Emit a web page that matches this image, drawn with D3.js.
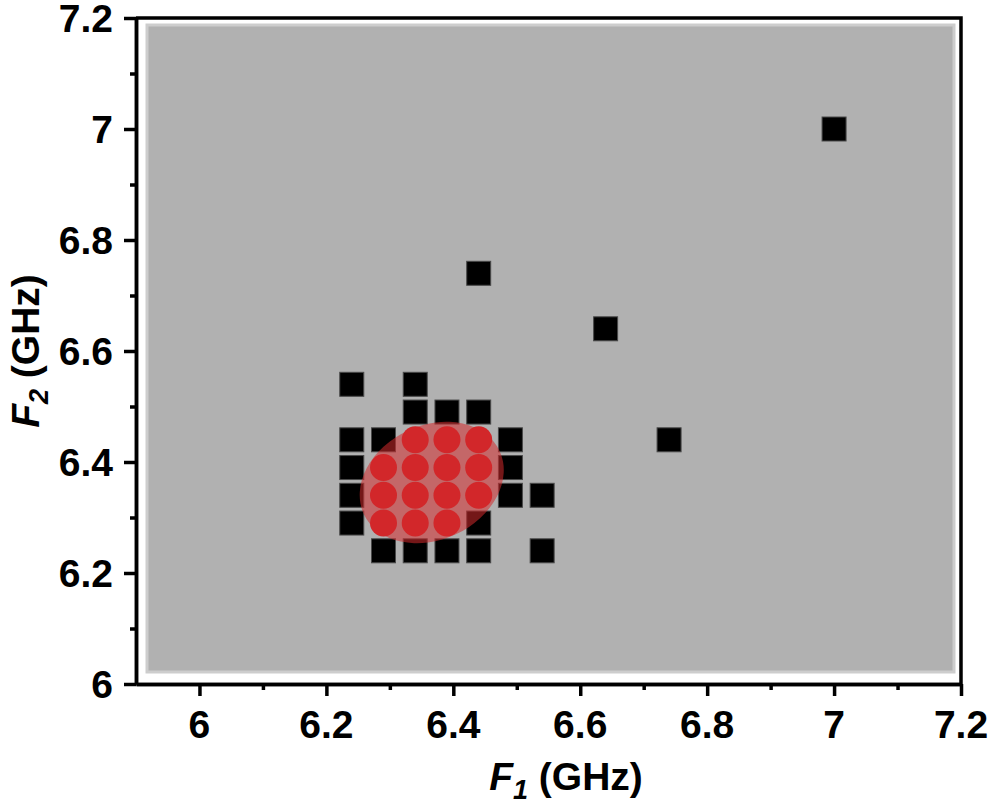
<!DOCTYPE html>
<html>
<head>
<meta charset="utf-8">
<script src="https://cdn.jsdelivr.net/npm/d3@7"></script>
<style>
  html, body { margin: 0; padding: 0; background: #fff; }
  svg { display: block; font-family: "Liberation Sans", Arial, sans-serif; }
  .tick-label { font-size: 39px; font-weight: bold; fill: #000; }
  .axis-title { font-size: 39px; font-weight: bold; fill: #000; }
</style>
</head>
<body>
<svg id="chart" width="992" height="805"></svg>
<script>
// measured points (GHz)
const squareF1 = [6.24, 6.34, 6.34, 6.39, 6.44, 6.24, 6.29, 6.49, 6.24, 6.49, 6.24, 6.49, 6.54,
  6.24, 6.44, 6.29, 6.34, 6.39, 6.44, 6.54, 6.44, 6.64, 6.74, 7.00];
const squareF2 = [6.54, 6.54, 6.49, 6.49, 6.49, 6.44, 6.44, 6.44, 6.39, 6.39, 6.34, 6.34, 6.34,
  6.29, 6.29, 6.24, 6.24, 6.24, 6.24, 6.24, 6.74, 6.64, 6.44, 7.00];

const circleF1 = [6.34, 6.39, 6.44, 6.29, 6.34, 6.39, 6.44, 6.29, 6.34, 6.39, 6.44, 6.29, 6.34, 6.39];
const circleF2 = [6.44, 6.44, 6.44, 6.39, 6.39, 6.39, 6.39, 6.34, 6.34, 6.34, 6.34, 6.29, 6.29, 6.29];

// highlighted region (center + half widths, GHz)
const regionCenter = [6.366, 6.363];
const regionHalf = [0.118, 0.103];

const majorTicks = [6, 6.2, 6.4, 6.6, 6.8, 7, 7.2];
const majorLabels = ["6", "6.2", "6.4", "6.6", "6.8", "7", "7.2"];
const minorTicks = [6.1, 6.3, 6.5, 6.7, 6.9, 7.1];

const svg = d3.select("#chart");
const m = { left: 136, right: 961, top: 18, bottom: 684 };

const x = d3.scaleLinear().domain([5.9, 7.2]).range([m.left, m.right]);
const y = d3.scaleLinear().domain([6, 7.2]).range([m.bottom, m.top]);

// grey plot background
svg.append("rect")
  .attr("x", m.left + 11).attr("y", m.top + 7)
  .attr("width", m.right - m.left - 18).attr("height", m.bottom - m.top - 19)
  .attr("fill", "#b1b1b1")
  .attr("stroke", "#cdcdcd")
  .attr("stroke-width", 3);

const marks = svg.append("g");

const side = 24;
marks.selectAll("rect.pt")
  .data(squareF1.map((d, i) => [d, squareF2[i]]))
  .join("rect")
  .attr("class", "pt")
  .attr("x", d => x(d[0]) - side / 2)
  .attr("y", d => y(d[1]) - side / 2)
  .attr("width", side).attr("height", side)
  .attr("fill", "#000")
  .attr("stroke", "#4a4a4a")
  .attr("stroke-width", 1);

const cx = x(regionCenter[0]), cy = y(regionCenter[1]);
marks.append("ellipse")
  .attr("cx", cx).attr("cy", cy)
  .attr("rx", x(regionCenter[0] + regionHalf[0]) - cx)
  .attr("ry", cy - y(regionCenter[1] + regionHalf[1]))
  .attr("transform", `rotate(-25,${cx},${cy})`)
  .attr("fill", "#d42a2c")
  .attr("fill-opacity", 0.55);

marks.selectAll("circle")
  .data(circleF1.map((d, i) => [d, circleF2[i]]))
  .join("circle")
  .attr("cx", d => x(d[0]))
  .attr("cy", d => y(d[1]))
  .attr("r", 13.5)
  .attr("fill", "#d2272a");

// frame
svg.append("path")
  .attr("d", `M${m.left},${m.top}H${m.right}V${m.bottom}`)
  .attr("stroke", "#000").attr("stroke-width", 3.5).attr("fill", "none");

function styleAxis(g) {
  g.select(".domain").attr("stroke-width", 3.5);
  g.selectAll(".tick line").attr("stroke-width", 3.5);
  g.selectAll(".tick text").remove();
}

svg.append("g").attr("transform", `translate(0,${m.bottom})`)
  .call(d3.axisBottom(x).tickValues(minorTicks).tickSize(6).tickSizeOuter(0))
  .call(styleAxis);
svg.append("g").attr("transform", `translate(${m.left},0)`)
  .call(d3.axisLeft(y).tickValues(minorTicks).tickSize(6).tickSizeOuter(0))
  .call(styleAxis);

svg.append("g").attr("transform", `translate(0,${m.bottom})`)
  .call(d3.axisBottom(x).tickValues(majorTicks).tickSize(12).tickSizeOuter(0))
  .call(styleAxis);
svg.append("g").attr("transform", `translate(${m.left},0)`)
  .call(d3.axisLeft(y).tickValues(majorTicks).tickSize(12).tickSizeOuter(0))
  .call(styleAxis);

// tick labels
svg.selectAll("text.xl")
  .data(majorTicks)
  .join("text")
  .attr("class", "tick-label xl")
  .attr("x", d => x(d))
  .attr("y", m.bottom + 54)
  .attr("text-anchor", "middle")
  .text((d, i) => majorLabels[i]);

svg.selectAll("text.yl")
  .data(majorTicks)
  .join("text")
  .attr("class", "tick-label yl")
  .attr("x", m.left - 23)
  .attr("y", d => y(d) + 14)
  .attr("text-anchor", "end")
  .text((d, i) => majorLabels[i]);

// axis titles
const xt = svg.append("text").attr("class", "axis-title")
  .attr("x", 566).attr("y", 790).attr("text-anchor", "middle");
xt.append("tspan").attr("font-style", "italic").text("F");
xt.append("tspan").attr("font-style", "italic").attr("font-size", 27).attr("dy", 9).text("1");
xt.append("tspan").attr("dy", -9).text(" (GHz)");

const yt = svg.append("text").attr("class", "axis-title")
  .attr("transform", `translate(39,${(m.top + m.bottom) / 2}) rotate(-90)`)
  .attr("text-anchor", "middle");
yt.append("tspan").attr("font-style", "italic").text("F");
yt.append("tspan").attr("font-style", "italic").attr("font-size", 27).attr("dy", 9).text("2");
yt.append("tspan").attr("dy", -9).text(" (GHz)");
</script>
</body>
</html>
